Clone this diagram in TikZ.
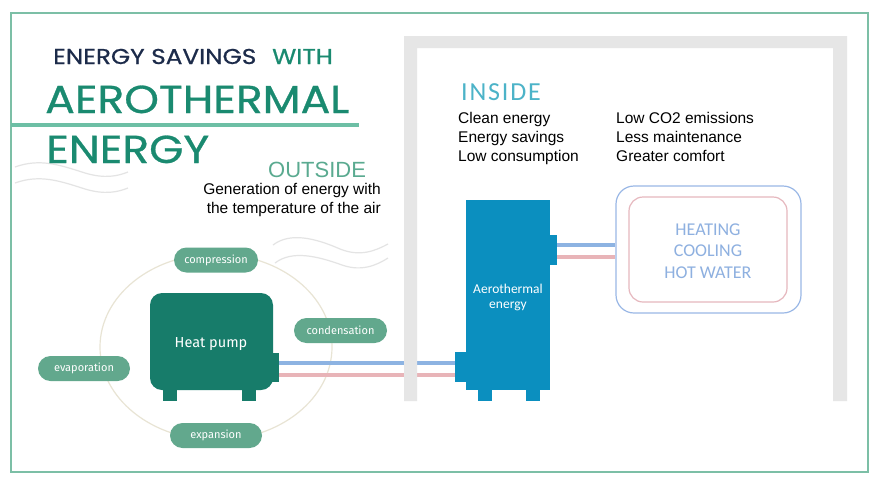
\documentclass[tikz,border=0pt]{standalone}
\usepackage{fontspec}
\setmainfont{Liberation Sans}
\newfontfamily\titlefont{Poppins}[FakeBold=0.7]
\newfontfamily\calfont{Carlito}
\newfontfamily\firafont{Fira Sans}
\definecolor{framegreen}{HTML}{7CBFA6}
\definecolor{navy}{HTML}{1C2B4A}
\definecolor{teal}{HTML}{1A8A70}
\definecolor{barteal}{HTML}{6DBFA5}
\definecolor{outsidegreen}{HTML}{5AAA90}
\definecolor{pumpgreen}{HTML}{177C6A}
\definecolor{pillgreen}{HTML}{62A88D}
\definecolor{ringbeige}{HTML}{E8E4D4}
\definecolor{unitblue}{HTML}{0B8FBF}
\definecolor{insideblue}{HTML}{4CB3C8}
\definecolor{heatblue}{HTML}{8EB0E0}
\definecolor{boxblue}{HTML}{9AB8E6}
\definecolor{boxpink}{HTML}{E6B8BE}
\definecolor{pipeblue}{HTML}{8DB3E2}
\definecolor{pipepink}{HTML}{E8B4B8}
\definecolor{wallgray}{HTML}{E6E6E6}
\definecolor{wavegray}{HTML}{E4E4E4}
\tikzset{
  pill/.style={fill=pillgreen, rounded corners=12.5pt, minimum height=25pt, text=white, font=\firafont\fontsize{11}{13}\selectfont, inner sep=0pt},
  bluepipe/.style={pipeblue, line width=4pt},
  pinkpipe/.style={pipepink, line width=4pt},
  wave/.style={wavegray, line width=1.2pt},
  listtext/.style={anchor=base west, inner sep=0pt, font=\fontsize{15.5}{18}\selectfont},
  titletext/.style={anchor=base west, inner sep=0pt},
  unittext/.style={anchor=base, inner sep=0pt, text=white, font=\calfont\fontsize{13.5}{15.5}\selectfont},
  heattext/.style={anchor=base, inner sep=0pt, text=heatblue, font=\calfont\fontsize{18}{20}\selectfont},
  pumpfoot/.style={fill=pumpgreen, draw=none, minimum width=14pt, minimum height=11pt, inner sep=0pt, anchor=north west},
  unitfoot/.style={fill=unitblue, draw=none, minimum width=14pt, minimum height=11pt, inner sep=0pt, anchor=north west}
}
\begin{document}
\begin{tikzpicture}[x=1pt,y=-1pt]
\useasboundingbox (0,0) rectangle (879,483);
\fill[white] (0,0) rectangle (879,483);
% frame
\draw[framegreen, line width=1.5pt] (11,13) rectangle (868,472);
% waves
\draw[wave] (15,167) .. controls (40,158) and (60,165) .. (85,173) .. controls (105,179) and (118,176) .. (128,172);
\draw[wave] (15,183) .. controls (40,174) and (60,181) .. (85,189) .. controls (105,195) and (118,192) .. (128,188);
\draw[wave] (273,245) .. controls (290,232) and (315,238) .. (340,249) .. controls (360,257) and (375,251) .. (388,244);
\draw[wave] (275,263) .. controls (292,250) and (317,256) .. (342,265) .. controls (362,272) and (377,265) .. (388,258);
% ring
\draw[ringbeige, line width=1.2pt] (216,347) ellipse [x radius=116, y radius=93];
% title
\node[titletext, text=navy, font=\titlefont\fontsize{21.5}{24}\selectfont] (t1) at (53,64) {\scalebox{1.15}[1]{ENERGY SAVINGS}};
\node[titletext, text=teal, font=\titlefont\fontsize{21.5}{24}\selectfont] (t2) at (272,64) {\scalebox{1.15}[1]{WITH}};
\node[titletext, text=teal, font=\titlefont\fontsize{39}{42}\selectfont] (t3) at (45,113) {\scalebox{1.13}[1]{AEROTHERMAL}};
\fill[barteal] (11,123) rectangle (359,127);
\node[titletext, text=teal, font=\titlefont\fontsize{39}{42}\selectfont] (t4) at (46,163) {\scalebox{1.13}[1]{ENERGY}};
% outside
\node[anchor=base west, inner sep=0pt, text=outsidegreen, font=\fontsize{22}{24}\selectfont] (out) at (268,177) {OUTSIDE};
\node[anchor=base east, inner sep=0pt, font=\fontsize{15.5}{18}\selectfont] (g1) at (381,194) {Generation of energy with};
\node[anchor=base east, inner sep=0pt, font=\fontsize{15.5}{18}\selectfont] (g2) at (381,213) {the temperature of the air};
% pipe levels
\coordinate (byL) at (0,363);
\coordinate (pyL) at (0,375);
\coordinate (byU) at (0,245);
\coordinate (pyU) at (0,257);
% heat pump
\node[fill=pumpgreen, rounded corners=12pt, minimum width=123pt, minimum height=97pt, inner sep=0pt] (hp) at (211.5,341.5) {};
\node[anchor=base, inner sep=0pt, text=white, font=\firafont\fontsize{14.5}{17}\selectfont] (hpt) at (211,347) {Heat pump};
\node[fill=pumpgreen, minimum width=7pt, minimum height=29pt, inner sep=0pt, anchor=west] (hpc) at (272,367.5) {};
\node[pumpfoot] (hpf1) at (163,390) {};
\node[pumpfoot] (hpf2) at (242,390) {};
% aerothermal unit
\node[fill=unitblue, minimum width=84pt, minimum height=190pt, inner sep=0pt] (au) at (508,295) {};
\node[unittext] (aut1) at (508,293) {Aerothermal};
\node[unittext] (aut2) at (508,308.5) {energy};
\node[fill=unitblue, minimum width=11pt, minimum height=30pt, inner sep=0pt, anchor=east] (aul) at (466,367) {};
\node[fill=unitblue, minimum width=7pt, minimum height=30pt, inner sep=0pt, anchor=west] (aur) at (550,250) {};
\node[unitfoot] (auf1) at (478,390) {};
\node[unitfoot] (auf2) at (526,390) {};
% heating box
\node[draw=boxblue, line width=1.2pt, rounded corners=18pt, minimum width=185pt, minimum height=127pt, inner sep=0pt] (hb) at (708.5,249.5) {};
\node[draw=boxpink, line width=1.2pt, rounded corners=14pt, minimum width=158pt, minimum height=105pt, inner sep=0pt] (hbi) at (708,249.5) {};
\node[heattext] (h1) at (708,235) {HEATING};
\node[heattext] (h2) at (708,256.5) {COOLING};
\node[heattext] (h3) at (708,278) {HOT WATER};
% pipes
\draw[bluepipe] (hpc.east |- byL) -- (aul.west |- byL);
\draw[pinkpipe] (hpc.east |- pyL) -- (aul.west |- pyL);
\draw[bluepipe] (aur.east |- byU) -- (hb.west |- byU);
\draw[pinkpipe] (aur.east |- pyU) -- (hb.west |- pyU);
% wall
\fill[wallgray] (404,401) -- (404,36) -- (847,36) -- (847,401) -- (833,401) -- (833,48) -- (417,48) -- (417,401) -- cycle;
% inside
\node[anchor=base west, inner sep=0pt, text=insideblue, font=\calfont\fontsize{26}{28}\selectfont\addfontfeature{LetterSpace=7}] (ins) at (461,100) {INSIDE};
\node[listtext] (l1) at (458,123) {Clean energy};
\node[listtext] (l2) at (458,142) {Energy savings};
\node[listtext] (l3) at (458,161) {Low consumption};
\node[listtext] (r1) at (616,123) {Low CO2 emissions};
\node[listtext] (r2) at (616,142) {Less maintenance};
\node[listtext] (r3) at (616,161) {Greater comfort};
% pills
\node[pill, minimum width=84pt] (p1) at (216,260) {compression};
\node[pill, minimum width=93pt] (p2) at (340.5,330.5) {condensation};
\node[pill, minimum width=92pt] (p3) at (84,368.5) {evaporation};
\node[pill, minimum width=92pt] (p4) at (216,435.5) {expansion};
\end{tikzpicture}
\end{document}
